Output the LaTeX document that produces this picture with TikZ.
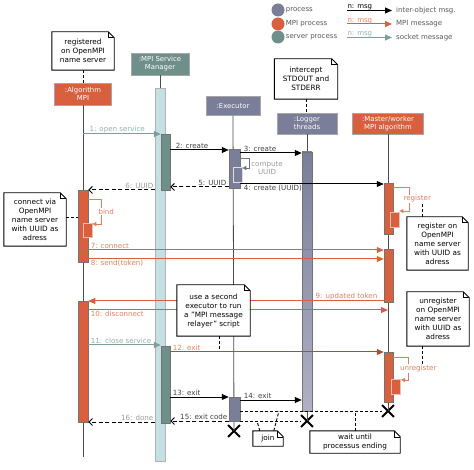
\documentclass[tikz,border=0pt]{standalone}
\usepackage{fontspec}
\setmainfont{DejaVu Sans}
\usetikzlibrary{arrows.meta,shapes.misc}
\definecolor{proc}{HTML}{7A7E99}
\definecolor{mpi}{HTML}{D8603F}
\definecolor{mpil}{HTML}{E27E60}
\definecolor{srv}{HTML}{6F8F8B}
\definecolor{srvl}{HTML}{C4E0E0}
\definecolor{sock}{HTML}{7F9E9B}
\definecolor{sockl}{HTML}{93AEAA}
\definecolor{grey}{HTML}{9A9A9A}
\tikzset{
  head/.style={
    rectangle, draw=black!35, text=white, align=center, inner sep=1pt,
    font=\fontsize{6.9}{8}\selectfont
  },
  bar/.style={
    rectangle, draw=black!55, minimum width=9pt, inner sep=0pt, line width=0.5pt
  },
  nest/.style={
    rectangle, minimum width=9pt, minimum height=14pt, inner sep=0pt, line width=0.7pt
  },
  note/.style={
    fill=white, align=center, inner sep=0pt, font=\fontsize{7.3}{9}\selectfont
  },
  lbl/.style={font=\fontsize{7.1}{8}\selectfont, inner sep=1pt, text=black!75},
  keytxt/.style={font=\fontsize{7}{8}\selectfont, text=black!65, inner sep=1pt},
  key/.style={circle, minimum size=13pt, inner sep=0pt, label distance=4.5pt},
  life/.style={draw=black!70, line width=0.8pt},
  msg/.style={line width=1pt, -{Triangle[length=7pt,width=6pt]}},
  ret/.style={line width=1pt, dash pattern=on 4pt off 2.5pt, -{Straight Barb[length=3.5pt,width=7pt]}},
  self/.style={line width=0.9pt, -{Triangle[length=4pt,width=4pt]}},
  link/.style={line width=0.9pt, dash pattern=on 3pt off 2pt},
  kill/.style={cross out, draw, line width=1.8pt, minimum size=10pt, inner sep=0pt}
}

\begin{document}
\begin{tikzpicture}[x=1pt, y=-1pt]
 \useasboundingbox (0,0) rectangle (474,470);

 \node[key, fill=proc, label={[keytxt]right:process}] (kproc) at (278,10) {};
 \node[key, fill=mpi, label={[keytxt]right:MPI process}] (kmpi) at (278,24) {};
 \node[key, fill=srv, label={[keytxt]right:server process}] (ksrv) at (278,37) {};
 \node[keytxt, anchor=west] (kobj) at (395,10.5) {inter-object msg.};
 \node[keytxt, anchor=west] (kmsg) at (395,24) {MPI message};
 \node[keytxt, anchor=west] (ksock) at (395,37.5) {socket message};
 \coordinate (ka) at (347,10.5);
 \coordinate (kb) at (347,24);
 \coordinate (kc) at (347,37.5);
 \draw[msg, shorten >=3pt] (ka) -- (kobj.west) node[keytxt, text=black, at start, above right, inner sep=0pt] {n: msg};
 \draw[msg, mpi, shorten >=3pt] (kb) -- (kmsg.west) node[keytxt, text=mpil, at start, above right, inner sep=0pt] {n: msg};
 \draw[msg, sock, shorten >=3pt] (kc) -- (ksock.west) node[keytxt, text=sockl, at start, above right, inner sep=0pt] {n: msg};

 \node[head, fill=mpi, minimum width=57pt, minimum height=22pt] (alg) at (83,94) {:Algorithm\\MPI};
 \node[head, fill=srv, minimum width=58pt, minimum height=22pt] (mgr) at (160,64) {:MPI Service\\Manager};
 \node[head, fill=proc, minimum width=54pt, minimum height=19pt] (exe) at (233,106) {:Executor};
 \node[head, fill=proc, minimum width=60pt, minimum height=21pt] (lgr) at (307,123.5) {:Logger\\threads};
 \node[head, fill=mpi, minimum width=71pt, minimum height=21pt] (mst) at (388,123.5) {:Master/worker\\MPI algorithm};

 \coordinate (algend) at (83,457);
 \node[kill] (exex) at (234,431) {};
 \node[kill] (lgrx) at (307,421) {};
 \node[kill] (mstx) at (388,411) {};
 \node[bar, fill=srvl, draw=black!30, minimum width=10pt, minimum height=373pt] (mgrl) at (160,274.5) {};

 \draw[life] (alg.south) -- (algend);
 \draw[life] (mgr.south) -- (mgrl.north);
 \draw[life] (exe.south) -- (exex.center);
 \draw[life] (lgr.south) -- (lgrx.center);
 \draw[life] (mst.south) -- (mstx.center);

 \node[bar, fill=mpi, minimum width=10pt, minimum height=72pt] (alga) at (83,226) {};
 \node[nest, fill=mpi, draw=white!60!mpi] (algn) at (87.5,230) {};
 \node[bar, fill=mpi, minimum width=10pt, minimum height=121pt] (algb) at (83,361.5) {};
 \node[bar, fill=srv, minimum height=56pt] (mgra) at (165.5,162) {};
 \node[bar, fill=srv, minimum height=77pt] (mgrb) at (165.5,384.5) {};
 \node[bar, fill=proc, minimum width=11pt, minimum height=39pt] (exea) at (234.5,168.5) {};
 \node[nest, fill=proc, draw=white!75!proc, minimum height=15pt] (exen) at (237.5,175) {};
 \node[bar, fill=proc, minimum width=11pt, minimum height=24pt] (exeb) at (234.5,409) {};
 \node[bar, top color=proc, bottom color=proc!60!white, minimum width=10pt, minimum height=259pt] (lgra) at (307,281.5) {};
 \node[bar, fill=mpi, minimum height=51pt] (msta) at (388.5,208.5) {};
 \node[nest, fill=mpi, draw=white!60!mpi, minimum height=15pt] (mstn) at (394.5,219.5) {};
 \node[bar, fill=mpi, minimum height=53pt] (mstb) at (388.5,275.5) {};
 \node[bar, fill=mpi, minimum height=50pt] (mstc) at (388.5,377) {};
 \node[nest, fill=mpi, draw=white!60!mpi, minimum height=15pt] (mstm) at (396,386.5) {};

 \draw[msg, sock] (alg |- 0,134) -- (mgra.west |- 0,134) node[lbl, text=sockl, at start, above right, xshift=5pt] {1: open service};
 \draw[msg] (mgra.east |- 0,150) -- (exea.west |- 0,150) node[lbl, at start, above right, xshift=4pt] {2: create};
 \draw[msg] (exea.east |- 0,153) -- (lgra.west |- 0,153) node[lbl, at start, above right, xshift=2pt] {3: create};
 \draw[msg] (exea.east |- 0,184) -- (msta.west |- 0,184) node[lbl, at start, below right, xshift=2pt] {4: create (UUID)};
 \draw[ret] (exea.west |- 0,187) -- (mgra.east |- 0,187) node[lbl, at start, above left, xshift=-1pt] {5: UUID};
 \draw[ret] (mgrl.west |- 0,190) -- (alga.east |- 0,190) node[lbl, text=grey, at start, above left] {6: UUID};
 \draw[msg, mpi] (alga.east |- 0,250) -- (mstb.west |- 0,250) node[lbl, text=mpil, at start, above right, xshift=1pt] {7: connect};
 \draw[msg, mpi] (alga.east |- 0,259) -- (mstb.west |- 0,259) node[lbl, text=mpil, at start, below right, xshift=1pt] {8: send(token)};
 \draw[msg, mpi] (mstb.west |- 0,301) -- (algb.east |- 0,301) node[lbl, text=mpil, at start, above left, xshift=-5pt] {9: updated token};
 \draw[msg, mpi] (algb.east |- 0,310) -- (mst |- 0,310) node[lbl, text=mpil, at start, below right, xshift=1pt] {10: disconnect};
 \draw[msg, sock] (algb.east |- 0,345) -- (mgrb.west |- 0,345) node[lbl, text=sockl, at start, above right, xshift=1pt] {11: close service};
 \draw[msg, mpi!80!black] (mgrb.east |- 0,352) -- (mstc.west |- 0,352) node[lbl, text=mpil, at start, above right, xshift=1pt] {12: exit};
 \draw[msg] (mgrb.east |- 0,397) -- (exeb.west |- 0,397) node[lbl, at start, above right, xshift=1pt] {13: exit};
 \draw[msg] (exeb.east |- 0,400) -- (lgra.west |- 0,400) node[lbl, at start, above right, xshift=2pt] {14: exit};
 \draw[ret] (exeb.west |- 0,421) -- (mgrb.east |- 0,421) node[lbl, at start, above left] {15: exit code};
 \draw[ret] (mgrl.west |- 0,422) -- (algb.east |- 0,422) node[lbl, text=grey, at start, above left] {16: done};
 \draw[link] (exeb.east |- mstx) -- (mstx);
 \draw[link] (exeb.east |- lgrx) -- (lgrx);

 \draw[self, mpil] (alga.east |- 0,199) -- ++(13,0) |- (algn.east |- 0,224) node[lbl, text=mpil, fill=white, pos=0.25, xshift=5pt] {bind};
 \draw[self, black!55] (exea.east |- 0,158) -- ++(9,0) |- (exen.east |- 0,168);
 \node[lbl, text=grey, align=center] (cmpl) at (267,168) {compute\\UUID};
 \draw[self, mpil] (msta.east |- 0,187) -- ++(16,0) |- (mstn.east |- 0,211) node[lbl, text=mpil, fill=white, pos=0.25, xshift=8pt] (regl) {register};
 \draw[self, mpil] (mstc.east |- 0,357) -- ++(15,0) |- (mstm.east |- 0,380) node[lbl, text=mpil, fill=white, pos=0.25, xshift=10pt] (unrl) {unregister};

 \node[note, minimum width=62pt, minimum height=38pt] (nreg) at (83,51) {registered\\on OpenMPI\\name server};
 \node[note, minimum width=63pt, minimum height=40pt] (nout) at (306,79) {intercept\\STDOUT and\\STDERR};
 \node[note, minimum width=62pt, minimum height=53pt] (ncon) at (35,219.5) {connect via\\OpenMPI\\name server\\with UUID as\\adress};
 \node[note, minimum width=61pt, minimum height=53pt] (nrg) at (437.5,243.5) {register on\\OpenMPI\\name server\\with UUID as\\adress};
 \node[note, minimum width=62pt, minimum height=54pt] (nunr) at (438,319) {unregister\\on OpenMPI\\name server\\with UUID as\\adress};
 \node[note, minimum width=73pt, minimum height=51pt] (nsec) at (213.5,310.5) {use a second\\executor to run\\a "MPI message\\relayer" script};
 \node[note, minimum width=90pt, minimum height=22pt] (nwait) at (355,442) {wait until\\processus ending};
 \node[note, minimum width=30pt, minimum height=15pt] (njoin) at (268,438.5) {join};
 \foreach \n in {nreg, nout, ncon, nrg, nunr, nsec, nwait, njoin} {
   \draw[line width=0.9pt] (\n.north west) -- ([xshift=-6pt]\n.north east) -- ([yshift=-6pt]\n.north east) -- (\n.south east) -- (\n.south west) -- cycle;
   \draw[line width=0.6pt] ([xshift=-6pt]\n.north east) |- ([yshift=-6pt]\n.north east);
  }

 \coordinate (ja) at (257,421);
 \coordinate (jb) at (279,411);
 \draw[link] (nreg.south) -- (alg.north);
 \draw[link] (nout.south) -- (nout.south |- lgr.north);
 \draw[link] (ncon.east |- 0,217) -- (alga.west |- 0,217);
 \draw[link] ([xshift=-15pt]nrg.north) -- ([xshift=-15pt]nrg.north |- regl.south);
 \draw[link] ([xshift=-16pt]nunr.south) -- ([xshift=-16pt]nunr.south |- unrl.north);
 \draw[link] ([xshift=5.5pt]nsec.south) -- ++(0,14);
 \draw[link] (nwait.north) -- (nwait.north |- mstx);
 \draw[link] ([xshift=7pt]njoin.north west) -- (ja);
 \draw[link] ([xshift=21pt]njoin.north west) -- (jb);

\end{tikzpicture}
\end{document}
